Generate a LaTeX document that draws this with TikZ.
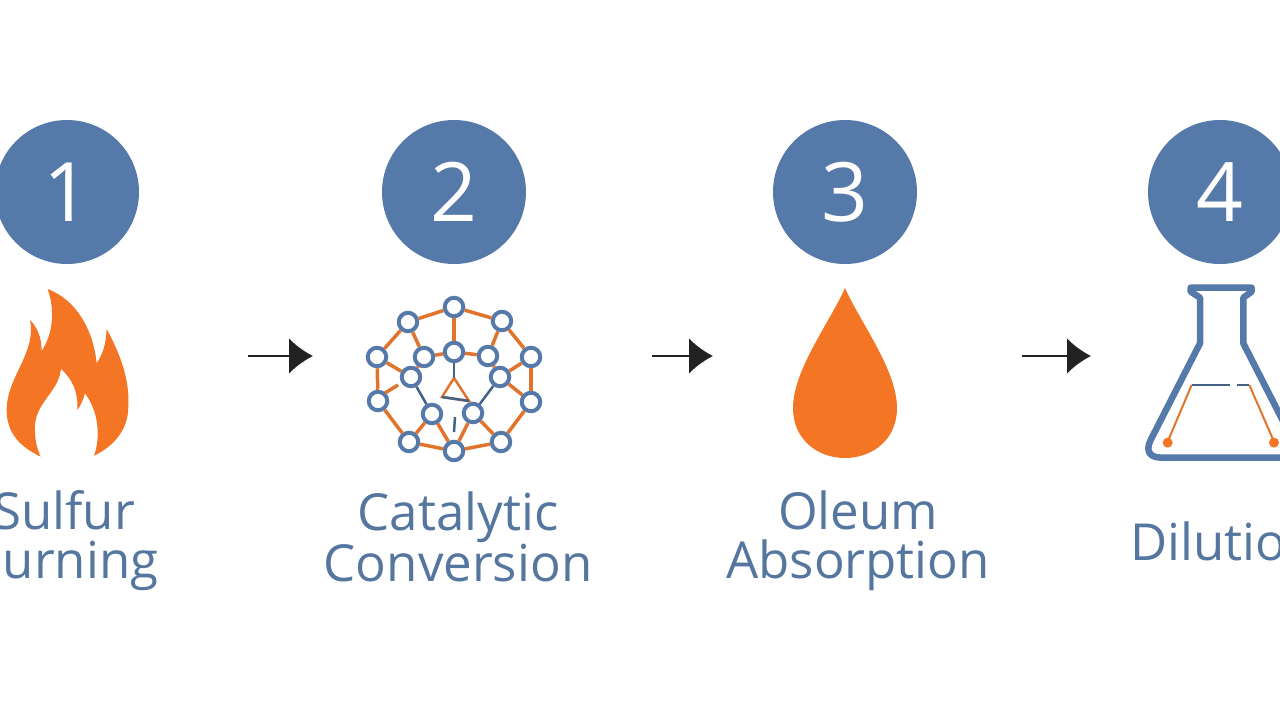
\documentclass[tikz,border=0pt]{standalone}
\usepackage{fontspec}
\usepackage{xcolor}
\setmainfont{Open Sans}
\usetikzlibrary{arrows.meta}
\definecolor{stepblue}{HTML}{5579A8}
\definecolor{labelblue}{HTML}{54769F}
\definecolor{flameorange}{HTML}{F47524}
\definecolor{bondorange}{HTML}{E0742C}
\definecolor{arrowblack}{HTML}{222222}
\tikzset{
    stepnum/.style={circle, fill=stepblue, text=white, minimum size=144pt, inner sep=0pt, font=\fontsize{82}{82}\selectfont},
    steplabel/.style={text=labelblue, align=center, inner sep=0pt, font=\fontsize{51}{49}\selectfont},
    flowarrow/.style={-{Latex[length=24pt,width=36pt]}, line width=2.5pt, draw=arrowblack},
    atom/.style={circle, draw=stepblue, fill=white, line width=4pt, minimum size=18.5pt, inner sep=0pt},
    bond/.style={draw=bondorange, line width=3.5pt},
    innerbond/.style={draw=stepblue!80!black, line width=2.5pt}
}
\begin{document}
\begin{tikzpicture}[x=1pt, y=-1pt]
    \useasboundingbox (0,0) rectangle (1280,720);
    \node[stepnum] (numA) at (67,192) {1};
    \node[stepnum] (numB) at (454,192) {2};
    \node[stepnum] (numC) at (845,192) {3};
    \node[stepnum] (numD) at (1220,192) {4};

    \node[steplabel] (burn) at (64,541) {Sulfur\\Burning};
    \node[steplabel] (conv) at (458,537) {Catalytic\\Conversion};
    \node[steplabel] (absorb) at (858,541) {Oleum\\Absorption};
    \node[steplabel, anchor=west] (dilute) at (1130,541) {Dilution};

    \coordinate (arrAs) at (248,356);
    \coordinate (arrAe) at (313,356);
    \coordinate (arrBs) at (652,356);
    \coordinate (arrBe) at (713,356);
    \coordinate (arrCs) at (1022,356);
    \coordinate (arrCe) at (1091,356);
    \draw[flowarrow] (arrAs) -- (arrAe);
    \draw[flowarrow] (arrBs) -- (arrBe);
    \draw[flowarrow] (arrCs) -- (arrCe);

    \begin{scope}[shift={(0,280)}, x=0.3333pt, y=-0.3333pt]
        \fill[flameorange] (143,27) .. controls (230,60) and (280,150) .. (290,250)
            .. controls (310,220) and (318,190) .. (320,147)
            .. controls (360,220) and (390,300) .. (385,380)
            .. controls (385,450) and (340,500) .. (282,527)
            .. controls (300,480) and (300,400) .. (255,340)
            .. controls (250,360) and (240,380) .. (232,390)
            .. controls (235,340) and (220,300) .. (183,267)
            .. controls (175,340) and (100,370) .. (105,450)
            .. controls (105,490) and (115,515) .. (122,530)
            .. controls (60,500) and (20,460) .. (20,390)
            .. controls (20,290) and (110,220) .. (90,120)
            .. controls (110,140) and (125,170) .. (125,213)
            .. controls (160,160) and (165,90) .. (143,27) -- cycle;
    \end{scope}

    \foreach \name/\x/\y in {a1/454/307, a2/408/322, a3/502/321, a4/377/357, a5/531/357,
        a6/378/401, a7/531/402, a8/409/442, a9/501/442, a10/454/451, a11/424/357,
        a12/454/352, a13/488/356, a14/411/377, a15/500/377, a16/432/414, a17/473/413}
        \node[atom] (\name) at (\x,\y) {};
    \foreach \a/\b in {a1/a2, a1/a3, a2/a4, a3/a5, a4/a6, a5/a7, a6/a8, a7/a9, a8/a10, a9/a10,
        a1/a12, a2/a11, a3/a13, a4/a14, a5/a15, a7/a15, a11/a12, a12/a13, a11/a14, a13/a15,
        a16/a10, a17/a10, a16/a8, a17/a9}
        \draw[bond] (\a) -- (\b);
    \coordinate (stubs) at (385,393);
    \coordinate (stube) at (398,385);
    \draw[bond] (stubs) -- (stube);
    \coordinate (triA) at (454,378);
    \coordinate (triB) at (442,397);
    \coordinate (triC) at (469,401);
    \coordinate (tailA) at (455,417);
    \coordinate (tailB) at (454,432);
    \draw[bond, line width=2.5pt] (triA) -- (triB) -- (triC) -- cycle;
    \draw[innerbond] (a12) -- (triA);
    \draw[innerbond] (a14) -- (a16);
    \draw[innerbond] (a15) -- (a17);
    \draw[innerbond] (triB) -- (triC);
    \draw[innerbond] (tailA) -- (tailB);

    \fill[flameorange] (845,288) .. controls (830,322) and (793,370) .. (793,408)
        .. controls (793,440) and (818,458) .. (845,458)
        .. controls (872,458) and (897,440) .. (897,408)
        .. controls (897,370) and (860,322) .. (845,288) -- cycle;

    \begin{scope}[shift={(1130,275)}, x=0.3333pt, y=-0.3333pt]
        \draw[stepblue, line width=6.5pt, line join=round]
            (210,205) -- (210,68) -- (182,50) -- (182,38) -- (365,38) -- (365,50) -- (340,68) -- (340,205)
            -- (488,495) .. controls (505,530) and (490,548) .. (455,548) -- (95,548)
            .. controls (60,548) and (45,530) .. (62,495) -- cycle;
        \draw[bondorange, line width=2pt] (113,500) -- (185,330);
        \draw[bondorange, line width=2pt] (358,330) -- (432,500);
        \draw[stepblue!80!black, line width=2.5pt] (185,330) -- (300,330);
        \draw[stepblue!80!black, line width=2.5pt] (322,330) -- (358,330);
        \fill[flameorange] (113,503) circle[radius=15];
        \fill[flameorange] (432,503) circle[radius=15];
    \end{scope}
\end{tikzpicture}
\end{document}
